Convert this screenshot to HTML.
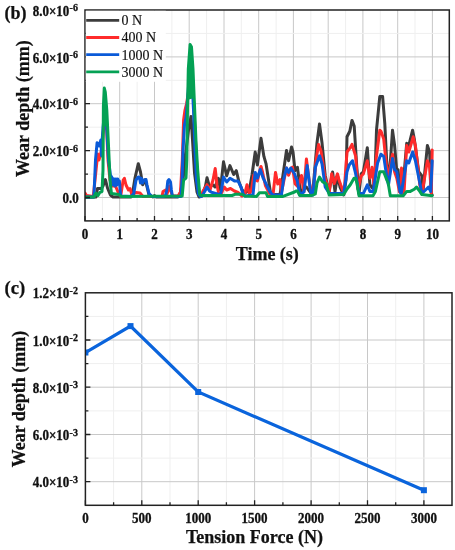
<!DOCTYPE html><html><head><meta charset="utf-8"><style>html,body{margin:0;padding:0;background:#fff;width:455px;height:550px;overflow:hidden}svg{display:block}</style></head><body>
<svg width="455" height="550" viewBox="0 0 455 550" font-family="'Liberation Serif', serif">
<rect width="455" height="550" fill="#fff"/>
<defs><clipPath id="cb"><rect x="85.0" y="10.0" width="364.3" height="210.9"/></clipPath><clipPath id="cc"><rect x="85.4" y="292.8" width="366.6" height="212.5"/></clipPath></defs>
<line x1="102.4" y1="10.0" x2="102.4" y2="220.9" stroke="#efefef" stroke-width="1"/><line x1="119.7" y1="10.0" x2="119.7" y2="220.9" stroke="#c8c8c8" stroke-width="1.0"/><line x1="137.1" y1="10.0" x2="137.1" y2="220.9" stroke="#efefef" stroke-width="1"/><line x1="154.5" y1="10.0" x2="154.5" y2="220.9" stroke="#c8c8c8" stroke-width="1.0"/><line x1="171.9" y1="10.0" x2="171.9" y2="220.9" stroke="#efefef" stroke-width="1"/><line x1="189.2" y1="10.0" x2="189.2" y2="220.9" stroke="#c8c8c8" stroke-width="1.0"/><line x1="206.6" y1="10.0" x2="206.6" y2="220.9" stroke="#efefef" stroke-width="1"/><line x1="224.0" y1="10.0" x2="224.0" y2="220.9" stroke="#c8c8c8" stroke-width="1.0"/><line x1="241.3" y1="10.0" x2="241.3" y2="220.9" stroke="#efefef" stroke-width="1"/><line x1="258.7" y1="10.0" x2="258.7" y2="220.9" stroke="#c8c8c8" stroke-width="1.0"/><line x1="276.1" y1="10.0" x2="276.1" y2="220.9" stroke="#efefef" stroke-width="1"/><line x1="293.4" y1="10.0" x2="293.4" y2="220.9" stroke="#c8c8c8" stroke-width="1.0"/><line x1="310.8" y1="10.0" x2="310.8" y2="220.9" stroke="#efefef" stroke-width="1"/><line x1="328.2" y1="10.0" x2="328.2" y2="220.9" stroke="#c8c8c8" stroke-width="1.0"/><line x1="345.6" y1="10.0" x2="345.6" y2="220.9" stroke="#efefef" stroke-width="1"/><line x1="362.9" y1="10.0" x2="362.9" y2="220.9" stroke="#c8c8c8" stroke-width="1.0"/><line x1="380.3" y1="10.0" x2="380.3" y2="220.9" stroke="#efefef" stroke-width="1"/><line x1="397.7" y1="10.0" x2="397.7" y2="220.9" stroke="#c8c8c8" stroke-width="1.0"/><line x1="415.0" y1="10.0" x2="415.0" y2="220.9" stroke="#efefef" stroke-width="1"/><line x1="432.4" y1="10.0" x2="432.4" y2="220.9" stroke="#c8c8c8" stroke-width="1.0"/><line x1="85.0" y1="197.5" x2="449.3" y2="197.5" stroke="#c8c8c8" stroke-width="1.0"/><line x1="85.0" y1="174.1" x2="449.3" y2="174.1" stroke="#efefef" stroke-width="1"/><line x1="85.0" y1="150.6" x2="449.3" y2="150.6" stroke="#c8c8c8" stroke-width="1.0"/><line x1="85.0" y1="127.2" x2="449.3" y2="127.2" stroke="#efefef" stroke-width="1"/><line x1="85.0" y1="103.7" x2="449.3" y2="103.7" stroke="#c8c8c8" stroke-width="1.0"/><line x1="85.0" y1="80.3" x2="449.3" y2="80.3" stroke="#efefef" stroke-width="1"/><line x1="85.0" y1="56.9" x2="449.3" y2="56.9" stroke="#c8c8c8" stroke-width="1.0"/><line x1="85.0" y1="33.4" x2="449.3" y2="33.4" stroke="#efefef" stroke-width="1"/>
<g clip-path="url(#cb)" fill="none" stroke-width="3.0" stroke-linejoin="round" stroke-linecap="round">
<polyline points="85.0,197.5 96.0,197.0 97.5,188.5 101.5,188.5 103.0,186.0 105.4,179.6 107.5,188.0 110.4,195.0 113.0,197.0 131.0,197.0 132.5,193.6 135.0,178.0 138.3,163.7 140.5,172.0 142.7,184.7 145.3,179.6 149.0,195.0 153.0,197.0 154.5,195.5 156.0,197.0 178.0,197.0 180.0,194.0 183.0,180.0 185.5,154.5 188.5,130.0 191.0,116.4 192.5,140.0 194.5,172.7 197.0,192.0 199.0,197.0 202.0,196.0 205.5,186.0 207.0,177.7 209.5,187.0 212.7,184.7 215.0,187.0 218.4,178.3 220.3,189.8 221.5,180.0 223.5,161.8 226.7,175.8 229.9,165.6 233.7,174.5 236.3,170.7 239.0,182.0 242.0,189.8 245.0,193.0 249.4,190.0 252.0,175.0 255.2,152.0 257.4,165.0 261.0,138.2 263.9,156.4 266.0,163.6 270.5,192.7 274.0,194.5 280.0,194.5 283.0,175.0 286.5,150.5 288.6,160.7 291.5,147.0 293.0,152.0 295.0,170.6 297.4,167.3 300.6,191.8 304.0,189.0 306.4,187.0 311.0,193.5 313.0,190.0 317.0,142.7 319.5,124.0 322.0,142.7 325.2,175.5 329.0,191.8 332.6,172.0 335.0,191.8 337.5,175.5 340.0,187.0 343.7,195.0 346.0,180.0 347.0,136.8 349.8,131.3 352.0,120.4 354.2,126.0 356.8,167.3 359.0,193.5 361.2,173.9 363.4,171.7 367.3,147.7 369.9,184.8 373.2,189.0 375.0,175.0 376.5,130.2 379.8,96.4 382.6,96.4 384.8,123.7 387.0,167.3 388.5,178.3 390.5,160.0 392.5,130.2 394.6,145.5 396.8,171.7 398.0,169.5 400.0,191.4 402.3,193.5 404.0,175.0 406.7,143.3 408.8,145.5 412.6,130.2 414.3,139.0 418.7,171.7 421.9,176.0 423.0,191.4 425.0,170.0 427.4,145.5 429.6,152.0 431.3,193.0 432.2,195.0" stroke="#3c3c3c"/>
<polyline points="85.0,193.0 86.5,195.5 93.3,196.5 95.0,180.0 97.7,154.0 99.0,160.0 101.5,150.0 103.0,135.0 105.0,118.0 106.5,125.0 108.0,160.0 110.0,180.0 112.0,186.0 115.5,186.0 118.0,192.0 120.6,196.5 123.2,180.0 124.4,178.3 126.0,185.0 128.5,190.0 130.0,188.5 132.0,195.0 136.0,192.5 140.0,193.0 143.0,196.5 162.0,196.5 163.0,191.5 165.6,190.0 167.0,194.0 169.4,186.0 171.0,191.5 172.5,196.0 178.0,196.0 180.5,192.0 182.3,160.0 183.6,120.0 185.0,110.0 186.5,104.0 188.5,92.0 190.5,72.0 191.5,66.4 193.0,90.0 195.5,140.0 197.5,180.0 199.5,194.0 201.0,196.0 203.0,191.0 207.0,184.7 210.0,190.0 213.0,180.0 215.2,168.5 217.0,185.0 219.0,195.0 221.5,193.0 224.2,187.0 226.7,190.0 230.5,188.5 234.4,191.0 238.0,192.5 242.0,196.0 245.0,193.0 247.0,184.7 249.4,194.0 251.5,190.0 253.7,175.3 255.2,180.0 257.4,181.0 259.5,172.0 261.0,166.5 262.5,172.0 265.4,185.5 269.0,192.7 271.0,196.0 273.0,195.0 275.5,172.4 277.7,184.0 280.0,179.6 281.4,192.7 283.0,185.0 286.5,168.0 288.6,175.3 291.5,168.0 292.5,167.0 295.0,183.6 298.2,186.9 301.5,175.5 303.9,191.8 306.4,159.0 309.6,183.6 312.0,193.5 314.0,185.0 316.0,160.0 318.6,144.4 321.0,151.0 325.2,178.7 329.3,191.8 331.7,173.8 334.2,183.6 337.5,173.8 339.0,180.0 340.7,184.8 344.0,193.5 347.0,152.0 350.3,147.7 352.0,144.4 355.7,156.4 357.9,189.2 361.2,176.0 363.4,173.9 367.3,160.8 369.9,178.3 372.1,167.3 373.9,184.8 376.0,160.0 379.8,130.2 381.0,131.3 383.7,139.0 387.0,171.7 388.1,178.3 392.5,154.2 394.6,171.7 396.8,178.3 399.5,192.0 400.6,193.0 401.5,168.0 402.5,193.5 404.0,193.5 406.7,145.5 408.8,152.0 413.2,136.8 415.4,145.5 419.8,184.8 422.0,193.5 427.4,160.8 429.6,167.3 431.3,193.5 432.2,150.0" stroke="#ff2b2b"/>
<polyline points="85.0,197.0 93.9,197.0 95.5,160.0 97.1,142.7 99.0,146.0 100.9,140.0 101.6,156.0 102.3,138.0 103.0,128.0 104.0,118.0 105.3,116.0 106.5,125.0 108.5,160.0 110.4,175.0 112.4,178.3 113.3,185.0 114.2,179.0 115.1,186.0 116.0,179.0 116.9,185.0 117.8,179.0 118.7,184.0 119.4,181.0 120.6,196.0 131.0,196.5 133.8,193.6 136.0,180.0 138.3,177.0 139.5,177.5 140.5,183.0 141.5,178.5 142.7,183.0 144.0,180.0 146.0,179.6 147.0,185.0 149.0,193.6 152.0,196.5 163.0,196.5 165.5,195.5 166.8,190.0 167.8,181.0 169.0,179.6 170.5,182.0 171.4,190.0 172.3,196.0 178.0,196.5 181.0,196.5 182.0,180.0 183.0,150.0 184.5,125.0 186.0,118.0 187.5,100.0 189.0,80.0 190.5,72.0 192.0,80.0 193.5,110.0 195.0,150.0 196.5,180.0 198.5,194.0 200.5,196.5 202.0,196.0 205.5,190.0 207.0,187.0 209.5,191.0 211.5,192.3 216.5,193.6 220.3,195.0 221.5,190.0 223.5,177.0 226.7,182.0 230.0,178.3 234.4,180.9 238.0,180.9 241.0,187.0 243.0,193.6 245.0,196.0 253.0,195.0 255.2,172.4 257.4,178.2 260.3,169.5 263.2,178.2 266.8,185.5 270.5,192.7 273.0,195.0 281.4,195.0 283.5,180.0 286.5,168.0 288.6,172.4 290.8,168.0 294.5,173.8 296.0,178.0 297.2,180.4 299.8,195.0 304.0,191.8 307.2,165.6 310.5,191.8 313.0,195.0 315.4,167.3 319.5,155.8 322.0,163.9 325.2,186.9 329.3,193.5 343.7,193.5 347.0,171.7 349.2,165.0 352.5,160.8 355.7,173.9 359.0,193.5 363.4,193.5 367.3,184.8 369.9,191.4 373.2,191.4 377.6,163.0 380.9,154.2 383.7,156.4 387.0,178.3 388.5,184.8 392.5,158.6 394.6,169.5 396.8,171.7 400.0,191.4 401.2,193.5 406.7,160.8 408.8,163.0 412.6,152.0 415.4,160.8 421.9,193.5 426.3,189.2 428.5,187.0 430.7,191.4 432.2,160.8" stroke="#0a5ad8"/>
<polyline points="85.0,197.0 94.0,197.0 96.0,193.0 98.0,195.5 100.0,192.3 102.0,191.5 103.0,170.0 103.4,106.0 104.3,88.0 105.3,92.0 106.8,110.0 108.6,147.8 110.2,183.0 111.5,193.6 119.0,194.5 121.0,196.5 182.2,196.0 183.6,180.0 186.0,178.0 186.8,160.0 187.5,110.0 188.3,69.0 190.1,44.4 191.5,47.0 193.0,69.0 194.2,98.0 196.0,141.0 197.7,170.0 199.7,194.5 201.0,195.5 232.0,195.5 235.0,194.3 242.0,194.3 245.0,196.0 256.6,196.4 259.5,192.7 266.0,192.7 267.5,196.4 283.0,196.4 294.5,192.0 296.0,191.0 297.4,191.0 299.8,195.5 312.0,195.5 315.3,194.0 317.0,183.0 319.5,177.1 322.7,182.0 326.0,183.6 329.3,195.1 343.7,194.6 347.0,189.0 350.3,184.8 354.0,178.3 355.7,178.3 356.8,182.6 359.0,195.7 373.0,195.7 375.4,191.4 379.8,171.7 383.7,171.7 387.0,180.4 388.1,182.6 390.3,195.7 403.4,195.7 406.7,191.4 410.3,191.4 414.3,189.2 416.5,187.0 419.8,191.4 421.9,194.6 432.2,195.7" stroke="#04a154"/>
<polygon points="103.3,125 103.4,106 104.3,88 105.3,92 106.8,110 107.8,128" fill="#04a154" stroke="none"/>
<polygon points="187.3,100 188.3,69 190.1,44.4 191.5,47 193,69 194.2,98" fill="#04a154" stroke="none"/>
</g>
<path d="M85.0 220.9 v-5 M102.4 220.9 v-3 M119.7 220.9 v-5 M137.1 220.9 v-3 M154.5 220.9 v-5 M171.9 220.9 v-3 M189.2 220.9 v-5 M206.6 220.9 v-3 M224.0 220.9 v-5 M241.3 220.9 v-3 M258.7 220.9 v-5 M276.1 220.9 v-3 M293.4 220.9 v-5 M310.8 220.9 v-3 M328.2 220.9 v-5 M345.6 220.9 v-3 M362.9 220.9 v-5 M380.3 220.9 v-3 M397.7 220.9 v-5 M415.0 220.9 v-3 M432.4 220.9 v-5 M85.0 197.5 h5 M85.0 174.1 h3 M85.0 150.6 h5 M85.0 127.2 h3 M85.0 103.7 h5 M85.0 80.3 h3 M85.0 56.9 h5 M85.0 33.4 h3" stroke="#222" stroke-width="1.3" fill="none"/>
<rect x="85.0" y="10.0" width="364.3" height="210.9" fill="none" stroke="#222" stroke-width="1.5"/>
<g font-weight="bold" font-size="13" fill="#111" stroke="#111" stroke-width="0.3"><text transform="translate(85.0,239) scale(1,1.04)" text-anchor="middle">0</text><text transform="translate(119.7,239) scale(1,1.04)" text-anchor="middle">1</text><text transform="translate(154.5,239) scale(1,1.04)" text-anchor="middle">2</text><text transform="translate(189.2,239) scale(1,1.04)" text-anchor="middle">3</text><text transform="translate(224.0,239) scale(1,1.04)" text-anchor="middle">4</text><text transform="translate(258.7,239) scale(1,1.04)" text-anchor="middle">5</text><text transform="translate(293.4,239) scale(1,1.04)" text-anchor="middle">6</text><text transform="translate(328.2,239) scale(1,1.04)" text-anchor="middle">7</text><text transform="translate(362.9,239) scale(1,1.04)" text-anchor="middle">8</text><text transform="translate(397.7,239) scale(1,1.04)" text-anchor="middle">9</text><text transform="translate(432.4,239) scale(1,1.04)" text-anchor="middle">10</text><text transform="translate(69.3,156.2) scale(1,1.04)" text-anchor="end">2.0×10</text><text transform="translate(69.6,151.6) scale(1,1.04)" font-size="10">-6</text><text transform="translate(69.3,109.3) scale(1,1.04)" text-anchor="end">4.0×10</text><text transform="translate(69.6,104.7) scale(1,1.04)" font-size="10">-6</text><text transform="translate(69.3,62.5) scale(1,1.04)" text-anchor="end">6.0×10</text><text transform="translate(69.6,57.9) scale(1,1.04)" font-size="10">-6</text><text transform="translate(69.3,15.6) scale(1,1.04)" text-anchor="end">8.0×10</text><text transform="translate(69.6,11.0) scale(1,1.04)" font-size="10">-6</text><text transform="translate(78.8,203.1) scale(1,1.04)" text-anchor="end">0.0</text></g>
<rect x="85.8" y="10.8" width="80" height="71" fill="#fff"/>
<line x1="86.2" y1="20.3" x2="119.2" y2="20.3" stroke="#3c3c3c" stroke-width="2.8"/><text x="121.6" y="25.1" font-size="14" fill="#111" stroke="#111" stroke-width="0.15">0 N</text><line x1="86.2" y1="37.5" x2="119.2" y2="37.5" stroke="#ff2b2b" stroke-width="2.8"/><text x="121.6" y="42.3" font-size="14" fill="#111" stroke="#111" stroke-width="0.15">400 N</text><line x1="86.2" y1="54.7" x2="119.2" y2="54.7" stroke="#0a5ad8" stroke-width="2.8"/><text x="121.6" y="59.5" font-size="14" fill="#111" stroke="#111" stroke-width="0.15">1000 N</text><line x1="86.2" y1="71.9" x2="119.2" y2="71.9" stroke="#04a154" stroke-width="2.8"/><text x="121.6" y="76.7" font-size="14" fill="#111" stroke="#111" stroke-width="0.15">3000 N</text>
<text x="4.6" y="18.6" font-size="18" font-weight="bold" fill="#111" stroke="#111" stroke-width="0.25">(b)</text>
<text x="267.3" y="260.3" font-size="18" font-weight="bold" text-anchor="middle" fill="#111" stroke="#111" stroke-width="0.25">Time (s)</text>
<text transform="translate(28.6,108.6) rotate(-90)" font-size="18" font-weight="bold" text-anchor="middle" fill="#111" stroke="#111" stroke-width="0.25">Wear depth (mm)</text>
<line x1="113.6" y1="292.8" x2="113.6" y2="505.3" stroke="#efefef" stroke-width="1"/><line x1="141.8" y1="292.8" x2="141.8" y2="505.3" stroke="#c8c8c8" stroke-width="1.0"/><line x1="170.0" y1="292.8" x2="170.0" y2="505.3" stroke="#efefef" stroke-width="1"/><line x1="198.2" y1="292.8" x2="198.2" y2="505.3" stroke="#c8c8c8" stroke-width="1.0"/><line x1="226.4" y1="292.8" x2="226.4" y2="505.3" stroke="#efefef" stroke-width="1"/><line x1="254.6" y1="292.8" x2="254.6" y2="505.3" stroke="#c8c8c8" stroke-width="1.0"/><line x1="282.9" y1="292.8" x2="282.9" y2="505.3" stroke="#efefef" stroke-width="1"/><line x1="311.1" y1="292.8" x2="311.1" y2="505.3" stroke="#c8c8c8" stroke-width="1.0"/><line x1="339.3" y1="292.8" x2="339.3" y2="505.3" stroke="#efefef" stroke-width="1"/><line x1="367.5" y1="292.8" x2="367.5" y2="505.3" stroke="#c8c8c8" stroke-width="1.0"/><line x1="395.7" y1="292.8" x2="395.7" y2="505.3" stroke="#efefef" stroke-width="1"/><line x1="423.9" y1="292.8" x2="423.9" y2="505.3" stroke="#c8c8c8" stroke-width="1.0"/><line x1="85.4" y1="481.7" x2="452.0" y2="481.7" stroke="#c8c8c8" stroke-width="1.0"/><line x1="85.4" y1="458.1" x2="452.0" y2="458.1" stroke="#efefef" stroke-width="1"/><line x1="85.4" y1="434.5" x2="452.0" y2="434.5" stroke="#c8c8c8" stroke-width="1.0"/><line x1="85.4" y1="410.9" x2="452.0" y2="410.9" stroke="#efefef" stroke-width="1"/><line x1="85.4" y1="387.2" x2="452.0" y2="387.2" stroke="#c8c8c8" stroke-width="1.0"/><line x1="85.4" y1="363.6" x2="452.0" y2="363.6" stroke="#efefef" stroke-width="1"/><line x1="85.4" y1="340.0" x2="452.0" y2="340.0" stroke="#c8c8c8" stroke-width="1.0"/><line x1="85.4" y1="316.4" x2="452.0" y2="316.4" stroke="#efefef" stroke-width="1"/>
<g clip-path="url(#cc)"><polyline points="85.4,352.5 130.5,326.1 198.2,392.0 423.9,490.2" fill="none" stroke="#0a64dc" stroke-width="3.2"/>
<rect x="82.4" y="349.5" width="6" height="6" fill="#0a64dc"/>
<rect x="127.5" y="323.1" width="6" height="6" fill="#0a64dc"/>
<rect x="195.2" y="389.0" width="6" height="6" fill="#0a64dc"/>
<rect x="420.9" y="487.2" width="6" height="6" fill="#0a64dc"/>
</g>
<path d="M85.4 505.3 v-5 M113.6 505.3 v-3 M141.8 505.3 v-5 M170.0 505.3 v-3 M198.2 505.3 v-5 M226.4 505.3 v-3 M254.6 505.3 v-5 M282.9 505.3 v-3 M311.1 505.3 v-5 M339.3 505.3 v-3 M367.5 505.3 v-5 M395.7 505.3 v-3 M423.9 505.3 v-5 M85.4 481.7 h5 M85.4 458.1 h3 M85.4 434.5 h5 M85.4 410.9 h3 M85.4 387.2 h5 M85.4 363.6 h3 M85.4 340.0 h5 M85.4 316.4 h3" stroke="#222" stroke-width="1.3" fill="none"/>
<rect x="85.4" y="292.8" width="366.6" height="212.5" fill="none" stroke="#222" stroke-width="1.5"/>
<g font-weight="bold" font-size="13" fill="#111" stroke="#111" stroke-width="0.3"><text transform="translate(85.4,523.3) scale(1,1.04)" text-anchor="middle">0</text><text transform="translate(141.8,523.3) scale(1,1.04)" text-anchor="middle">500</text><text transform="translate(198.2,523.3) scale(1,1.04)" text-anchor="middle">1000</text><text transform="translate(254.6,523.3) scale(1,1.04)" text-anchor="middle">1500</text><text transform="translate(311.1,523.3) scale(1,1.04)" text-anchor="middle">2000</text><text transform="translate(367.5,523.3) scale(1,1.04)" text-anchor="middle">2500</text><text transform="translate(423.9,523.3) scale(1,1.04)" text-anchor="middle">3000</text><text transform="translate(69.3,298.4) scale(1,1.04)" text-anchor="end">1.2×10</text><text transform="translate(69.6,293.8) scale(1,1.04)" font-size="10">-2</text><text transform="translate(69.3,345.6) scale(1,1.04)" text-anchor="end">1.0×10</text><text transform="translate(69.6,341.0) scale(1,1.04)" font-size="10">-2</text><text transform="translate(69.3,392.8) scale(1,1.04)" text-anchor="end">8.0×10</text><text transform="translate(69.6,388.2) scale(1,1.04)" font-size="10">-3</text><text transform="translate(69.3,440.1) scale(1,1.04)" text-anchor="end">6.0×10</text><text transform="translate(69.6,435.5) scale(1,1.04)" font-size="10">-3</text><text transform="translate(69.3,487.3) scale(1,1.04)" text-anchor="end">4.0×10</text><text transform="translate(69.6,482.7) scale(1,1.04)" font-size="10">-3</text></g>
<text x="4.6" y="294.2" font-size="18.6" font-weight="bold" fill="#111" stroke="#111" stroke-width="0.25">(c)</text>
<text x="254.5" y="542.8" font-size="18" font-weight="bold" text-anchor="middle" fill="#111" stroke="#111" stroke-width="0.25">Tension Force (N)</text>
<text transform="translate(25.2,399) rotate(-90)" font-size="18" font-weight="bold" text-anchor="middle" fill="#111" stroke="#111" stroke-width="0.25">Wear depth (mm)</text>
</svg></body></html>
